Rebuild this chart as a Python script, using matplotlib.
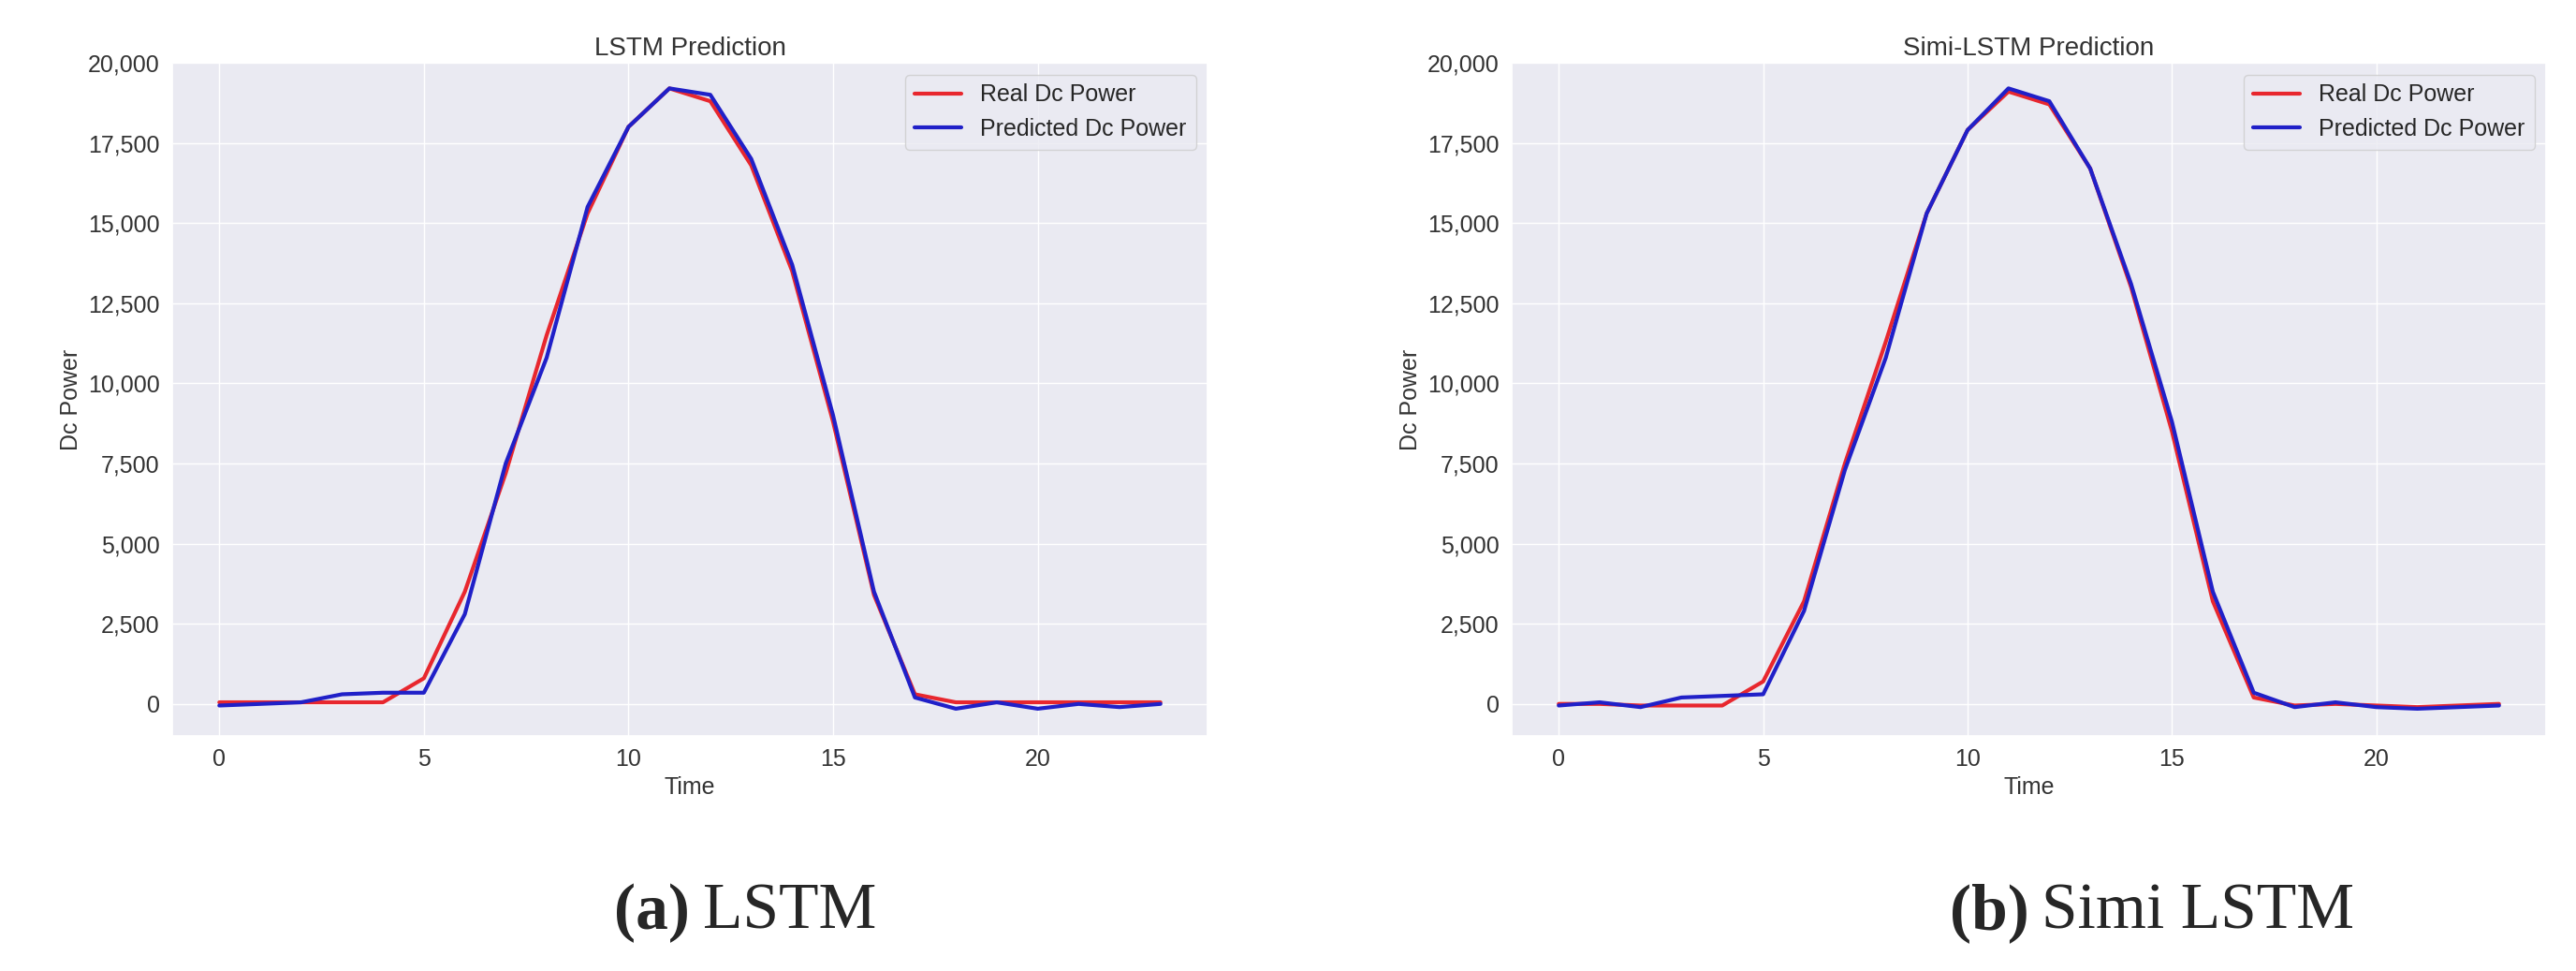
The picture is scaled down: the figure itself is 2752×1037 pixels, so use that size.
import matplotlib
matplotlib.use("Agg")
import matplotlib.pyplot as plt
import seaborn as sns
from matplotlib.ticker import FuncFormatter

sns.set_theme(style="darkgrid")
plt.rcParams['font.family'] = ['Liberation Sans', 'DejaVu Sans']

time = list(range(24))
lstm_real = [50,50,50,50,50,800,3500,7200,11500,15300,18000,19200,18800,16800,13500,8800,3400,300,50,50,50,50,50,50]
lstm_pred = [-50,0,50,300,350,350,2800,7500,10800,15500,18000,19200,19000,17000,13700,9000,3500,200,-150,50,-150,0,-100,0]
simi_real = [0,0,-50,-50,-50,700,3200,7500,11300,15300,17900,19100,18700,16700,13000,8500,3200,200,-50,0,-50,-100,-50,0]
simi_pred = [-50,50,-100,200,250,300,2900,7300,10800,15300,17900,19200,18800,16700,13100,8800,3500,350,-100,50,-100,-150,-100,-50]
titles = ["LSTM Prediction", "Simi-LSTM Prediction"]
captions = [("a", "LSTM"), ("b", "Simi LSTM")]

fig = plt.figure(figsize=(27.52, 10.37), dpi=100)
rects = [[184/2752, 1-786/1037, 1106/2752, 719/1037], [1615/2752, 1-786/1037, 1105/2752, 719/1037]]
for i, (real, pred) in enumerate([(lstm_real, lstm_pred), (simi_real, simi_pred)]):
    ax = fig.add_axes(rects[i])
    ax.plot(time, real, color='#e8272e', lw=3, label='Real Dc Power')
    ax.plot(time, pred, color='#2020c8', lw=3, label='Predicted Dc Power')
    ax.set_ylim(-1000, 20000)
    ax.set_yticks(range(0, 20001, 2500))
    ax.yaxis.set_major_formatter(FuncFormatter(lambda v, p: f"{int(v):,}"))
    ax.set_xticks([0, 5, 10, 15, 20])
    ax.tick_params(labelsize=18, colors='#333333')
    ax.set_title(titles[i], fontsize=20, color='#333333')
    ax.set_xlabel('Time', fontsize=18, color='#333333')
    ax.set_ylabel('Dc Power', fontsize=18, color='#333333')
    ax.legend(loc='upper right', fontsize=18)
    cx = rects[i][0] + rects[i][2] / 2
    fig.text(cx, 0.06, f"({captions[i][0]})", fontsize=50, fontweight='bold',
             family='Liberation Serif', ha='right', va='center')
    fig.text(cx + 0.005, 0.06, f"{captions[i][1]}", fontsize=50,
             family='Liberation Serif', ha='left', va='center')

fig.savefig("out.png", dpi=100)
